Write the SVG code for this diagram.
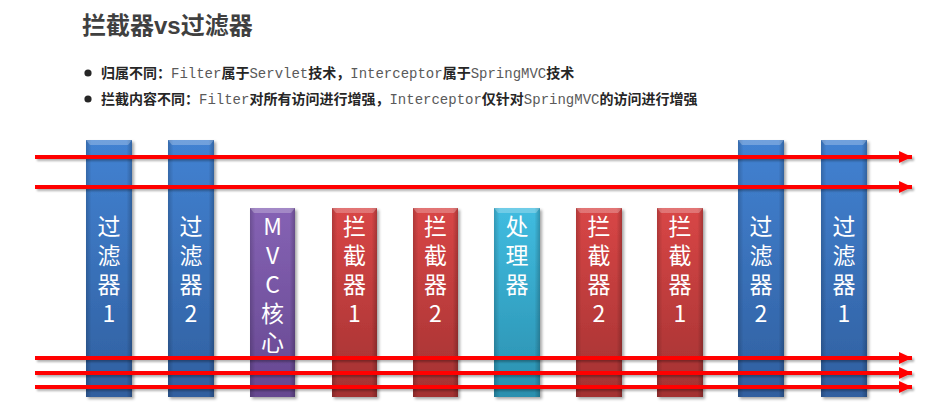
<svg xmlns="http://www.w3.org/2000/svg" width="936" height="415" viewBox="0 0 936 415">
<defs>
<linearGradient id="gBlue" x1="0" y1="0" x2="0" y2="1"><stop offset="0" stop-color="#4282d2"/><stop offset="1" stop-color="#305f9f"/></linearGradient>
<linearGradient id="gPurple" x1="0" y1="0" x2="0" y2="1"><stop offset="0" stop-color="#8562b4"/><stop offset="1" stop-color="#664890"/></linearGradient>
<linearGradient id="gRed" x1="0" y1="0" x2="0" y2="1"><stop offset="0" stop-color="#d84646"/><stop offset="1" stop-color="#a33232"/></linearGradient>
<linearGradient id="gCyan" x1="0" y1="0" x2="0" y2="1"><stop offset="0" stop-color="#40bce0"/><stop offset="1" stop-color="#2a8fae"/></linearGradient>
<linearGradient id="gSide" x1="0" y1="0" x2="1" y2="0"><stop offset="0" stop-color="#000" stop-opacity="0.18"/><stop offset="0.12" stop-color="#000" stop-opacity="0"/><stop offset="0.88" stop-color="#000" stop-opacity="0"/><stop offset="1" stop-color="#000" stop-opacity="0.22"/></linearGradient>
<filter id="sh" x="-30%" y="-10%" width="160%" height="130%"><feDropShadow dx="2" dy="2" stdDeviation="1.5" flood-color="#000" flood-opacity="0.35"/></filter>
<filter id="ash" x="-5%" y="-100%" width="110%" height="300%"><feDropShadow dx="2" dy="2" stdDeviation="1.2" flood-color="#000" flood-opacity="0.3"/></filter>
<marker id="ah" viewBox="0 0 13 12" refX="13" refY="6" markerWidth="13" markerHeight="12" markerUnits="userSpaceOnUse" orient="auto"><path d="M0,0 L13,6 L0,12 Z" fill="#ff0000"/></marker>
</defs>
<style>
.title{font-family:"Liberation Sans","Noto Sans CJK SC",sans-serif;font-weight:bold;font-size:24px;fill:#404040}
.cj{font-family:"Noto Sans CJK SC",sans-serif;font-weight:bold;font-size:14px;fill:#262626}
.mo{font-family:"Liberation Mono",monospace;font-weight:normal;font-size:14px;fill:#5a5a5a}
.lbl{font-family:"Noto Sans CJK SC","Liberation Sans",sans-serif;font-size:23px;fill:#ffffff;text-anchor:middle}
.hl{fill:#ffffff;fill-opacity:0.25}
.arr{stroke:#ff0000;stroke-width:4;fill:none}
</style>
<rect width="936" height="415" fill="#ffffff"/>
<text class="title" x="82" y="34">拦截器vs过滤器</text>
<circle cx="88" cy="73" r="3.6" fill="#262626"/>
<circle cx="88" cy="99" r="3.6" fill="#262626"/>
<text x="101" y="78"><tspan class="cj">归属不同：</tspan><tspan class="mo">Filter</tspan><tspan class="cj">属于</tspan><tspan class="mo">Servlet</tspan><tspan class="cj">技术，</tspan><tspan class="mo">Interceptor</tspan><tspan class="cj">属于</tspan><tspan class="mo">SpringMVC</tspan><tspan class="cj">技术</tspan></text>
<text x="101" y="104"><tspan class="cj">拦截内容不同：</tspan><tspan class="mo">Filter</tspan><tspan class="cj">对所有访问进行增强，</tspan><tspan class="mo">Interceptor</tspan><tspan class="cj">仅针对</tspan><tspan class="mo">SpringMVC</tspan><tspan class="cj">的访问进行增强</tspan></text>

<g id="filter1-left">
<rect x="86" y="140" width="46" height="257" fill="url(#gBlue)" filter="url(#sh)"/>
<rect x="86" y="140" width="46" height="257" fill="url(#gSide)"/>
<polygon class="hl" points="86,140 132,140 128,145 90,145"/>
<text class="lbl"><tspan x="109" y="235">过</tspan><tspan x="109" y="264">滤</tspan><tspan x="109" y="293">器</tspan><tspan x="109" y="322">1</tspan></text>
</g>
<g id="filter2-left">
<rect x="168" y="140" width="46" height="257" fill="url(#gBlue)" filter="url(#sh)"/>
<rect x="168" y="140" width="46" height="257" fill="url(#gSide)"/>
<polygon class="hl" points="168,140 214,140 210,145 172,145"/>
<text class="lbl"><tspan x="191" y="235">过</tspan><tspan x="191" y="264">滤</tspan><tspan x="191" y="293">器</tspan><tspan x="191" y="322">2</tspan></text>
</g>
<g id="mvc-core">
<rect x="250" y="208" width="45" height="189" fill="url(#gPurple)" filter="url(#sh)"/>
<rect x="250" y="208" width="45" height="189" fill="url(#gSide)"/>
<polygon class="hl" points="250,208 295,208 291,213 254,213"/>
<text class="lbl"><tspan x="272.5" y="235">M</tspan><tspan x="272.5" y="264">V</tspan><tspan x="272.5" y="293">C</tspan><tspan x="272.5" y="322">核</tspan><tspan x="272.5" y="351">心</tspan></text>
</g>
<g id="interceptor1-left">
<rect x="332" y="208" width="45" height="189" fill="url(#gRed)" filter="url(#sh)"/>
<rect x="332" y="208" width="45" height="189" fill="url(#gSide)"/>
<polygon class="hl" points="332,208 377,208 373,213 336,213"/>
<text class="lbl"><tspan x="354.5" y="235">拦</tspan><tspan x="354.5" y="264">截</tspan><tspan x="354.5" y="293">器</tspan><tspan x="354.5" y="322">1</tspan></text>
</g>
<g id="interceptor2-left">
<rect x="413" y="208" width="45" height="189" fill="url(#gRed)" filter="url(#sh)"/>
<rect x="413" y="208" width="45" height="189" fill="url(#gSide)"/>
<polygon class="hl" points="413,208 458,208 454,213 417,213"/>
<text class="lbl"><tspan x="435.5" y="235">拦</tspan><tspan x="435.5" y="264">截</tspan><tspan x="435.5" y="293">器</tspan><tspan x="435.5" y="322">2</tspan></text>
</g>
<g id="handler">
<rect x="494" y="208" width="46" height="189" fill="url(#gCyan)" filter="url(#sh)"/>
<rect x="494" y="208" width="46" height="189" fill="url(#gSide)"/>
<polygon class="hl" points="494,208 540,208 536,213 498,213"/>
<text class="lbl"><tspan x="517" y="235">处</tspan><tspan x="517" y="264">理</tspan><tspan x="517" y="293">器</tspan></text>
</g>
<g id="interceptor2-right">
<rect x="576" y="208" width="46" height="189" fill="url(#gRed)" filter="url(#sh)"/>
<rect x="576" y="208" width="46" height="189" fill="url(#gSide)"/>
<polygon class="hl" points="576,208 622,208 618,213 580,213"/>
<text class="lbl"><tspan x="599" y="235">拦</tspan><tspan x="599" y="264">截</tspan><tspan x="599" y="293">器</tspan><tspan x="599" y="322">2</tspan></text>
</g>
<g id="interceptor1-right">
<rect x="657" y="208" width="46" height="189" fill="url(#gRed)" filter="url(#sh)"/>
<rect x="657" y="208" width="46" height="189" fill="url(#gSide)"/>
<polygon class="hl" points="657,208 703,208 699,213 661,213"/>
<text class="lbl"><tspan x="680" y="235">拦</tspan><tspan x="680" y="264">截</tspan><tspan x="680" y="293">器</tspan><tspan x="680" y="322">1</tspan></text>
</g>
<g id="filter2-right">
<rect x="738" y="140" width="46" height="257" fill="url(#gBlue)" filter="url(#sh)"/>
<rect x="738" y="140" width="46" height="257" fill="url(#gSide)"/>
<polygon class="hl" points="738,140 784,140 780,145 742,145"/>
<text class="lbl"><tspan x="761" y="235">过</tspan><tspan x="761" y="264">滤</tspan><tspan x="761" y="293">器</tspan><tspan x="761" y="322">2</tspan></text>
</g>
<g id="filter1-right">
<rect x="821" y="140" width="46" height="257" fill="url(#gBlue)" filter="url(#sh)"/>
<rect x="821" y="140" width="46" height="257" fill="url(#gSide)"/>
<polygon class="hl" points="821,140 867,140 863,145 825,145"/>
<text class="lbl"><tspan x="844" y="235">过</tspan><tspan x="844" y="264">滤</tspan><tspan x="844" y="293">器</tspan><tspan x="844" y="322">1</tspan></text>
</g>

<g id="connectors" filter="url(#ash)">
<line class="arr" x1="35" y1="157" x2="912" y2="157" marker-end="url(#ah)"/>
<line class="arr" x1="35" y1="187" x2="912" y2="187" marker-end="url(#ah)"/>
<line class="arr" x1="35" y1="358" x2="912" y2="358" marker-end="url(#ah)"/>
<line class="arr" x1="35" y1="373" x2="912" y2="373" marker-end="url(#ah)"/>
<line class="arr" x1="35" y1="387" x2="912" y2="387" marker-end="url(#ah)"/>
</g>
</svg>
